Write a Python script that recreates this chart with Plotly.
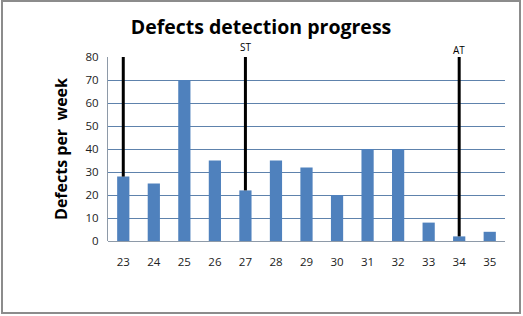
import plotly.graph_objects as go

weeks = ["23", "24", "25", "26", "27", "28", "29", "30", "31", "32", "33", "34", "35"]
defects = [28, 25, 70, 35, 22, 35, 32, 20, 40, 40, 8, 2, 4]
marker_weeks = ["23", "27", "34"]
marker_labels = ["", "ST", "AT"]
y_max = 80

W, H = 523, 316
L, R, T, B = 108, 18, 57, 75
pw, ph = W - L - R, H - T - B

fig = go.Figure()
fig.add_trace(go.Bar(x=weeks, y=defects, marker=dict(color="#4F81BD", line=dict(width=0)),
                     width=0.4, showlegend=False))

lx, ly = [], []
for w in marker_weeks:
    v = defects[weeks.index(w)]
    lx += [w, w, None]
    ly += [v, y_max, None]
fig.add_trace(go.Scatter(x=lx, y=ly, mode="lines", line=dict(color="black", width=3),
                         showlegend=False, hoverinfo="skip"))

for w, lab, ys in zip(marker_weeks, marker_labels, [10, 10, 7]):
    if lab:
        fig.add_annotation(x=weeks.index(w), y=y_max, xref="x", yref="y", text=lab,
                           showarrow=False, yshift=ys,
                           font=dict(family="Open Sans", size=10, color="#000"))

fig.add_shape(type="rect", xref="paper", yref="paper",
              x0=(2 - L) / pw, x1=(520 - L) / pw, y0=(H - B - 313) / ph, y1=(H - B - 1) / ph,
              line=dict(color="#8C8C8C", width=2), fillcolor="rgba(0,0,0,0)", layer="below")

fig.update_layout(
    width=W, height=H, margin=dict(l=L, r=R, t=T, b=B),
    paper_bgcolor="white", plot_bgcolor="white",
    title=dict(text="<b>Defects detection progress</b>", x=261 / W, xanchor="center",
               y=1 - 27 / H, yanchor="middle",
               font=dict(family="Open Sans", size=19.5, color="#000")),
    xaxis=dict(type="category", categoryorder="array", categoryarray=weeks,
               range=[-0.5, len(weeks) - 0.5], showgrid=False, ticks="", showline=False,
               tickfont=dict(family="Open Sans", size=11.5, color="#222"), ticklabelstandoff=12),
    yaxis=dict(range=[0, y_max], dtick=10, showgrid=True, gridcolor="#5E82AC", gridwidth=1,
               zeroline=True, zerolinecolor="#8E9AA8", zerolinewidth=1,
               showline=True, linecolor="#8E9AA8", linewidth=1,
               tickfont=dict(family="Open Sans", size=11.5, color="#222"), ticklabelstandoff=6,
               title=dict(text="<b>Defects per  week</b>", standoff=13,
                          font=dict(family="Open Sans", size=16, color="#000"))),
    bargap=0.6,
)

fig.write_html("out.html")
